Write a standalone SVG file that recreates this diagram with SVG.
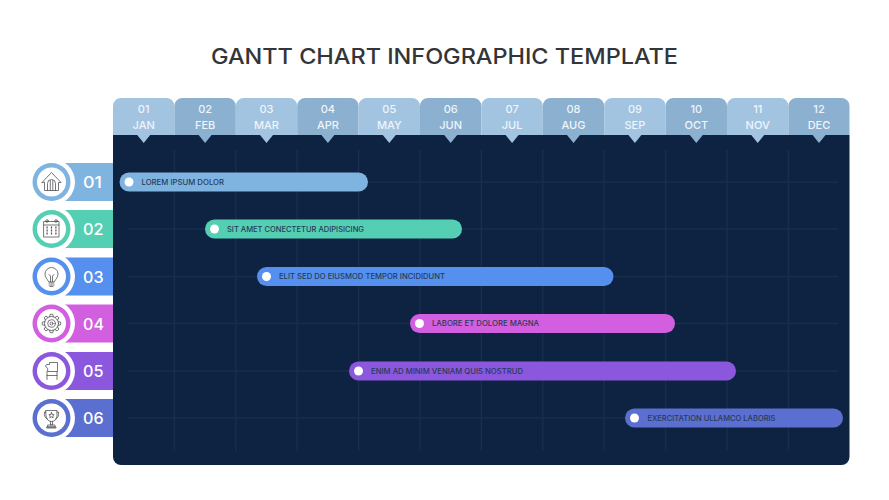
<svg xmlns="http://www.w3.org/2000/svg" width="889" height="500" viewBox="0 0 889 500">
<style>
text{font-family:Inter,"Liberation Sans",sans-serif}
.title{font-size:20.800px;font-weight:500;fill:#333538}
.m{font-size:11px;font-weight:500;fill:#eef5fb;text-anchor:middle}
.n{font-size:16px;font-weight:500;fill:#fff}
.b{font-size:7px;font-weight:500;fill:#263a58}
.l{fill:#a3c4e0}.d{fill:#8cb0cf}
.g{stroke:#182e4d;stroke-width:1.500;fill:none}
.i{stroke:#4a4a4f;stroke-width:.75;fill:none;stroke-linejoin:round;stroke-linecap:round}
.w{fill:#fff}
</style>
<defs>
<path id="tooth" class="i" d="M49.700 316.700L50.200 314.300H52.800L53.300 316.700"/>
</defs>
<rect width="889" height="500" fill="#fff"/>
<text class="title" x="211" y="63.500" textLength="467" lengthAdjust="spacingAndGlyphs">GANTT CHART INFOGRAPHIC TEMPLATE</text>

<g id="panel"><path d="M113 135H849.500V457a8 8 0 0 1-8 8H121a8 8 0 0 1-8-8Z" fill="#0e2342"/></g>

<g id="header">
<g id="m01"><path class="l" d="M113 135V106a8 8 0 0 1 8-8h45.400a8 8 0 0 1 8 8v29H150.200L143.700 143 137.200 135Z"/><text class="m" x="143.700" y="113">01</text><text class="m" x="143.700" y="129">JAN</text></g>
<g id="m02"><path class="d" d="M174.400 135V106a8 8 0 0 1 8-8h45.400a8 8 0 0 1 8 8v29H211.600L205.100 143 198.600 135Z"/><text class="m" x="205.100" y="113">02</text><text class="m" x="205.100" y="129">FEB</text></g>
<g id="m03"><path class="l" d="M235.800 135V106a8 8 0 0 1 8-8h45.400a8 8 0 0 1 8 8v29H273L266.500 143 260 135Z"/><text class="m" x="266.500" y="113">03</text><text class="m" x="266.500" y="129">MAR</text></g>
<g id="m04"><path class="d" d="M297.200 135V106a8 8 0 0 1 8-8h45.400a8 8 0 0 1 8 8v29H334.400L327.900 143 321.400 135Z"/><text class="m" x="327.900" y="113">04</text><text class="m" x="327.900" y="129">APR</text></g>
<g id="m05"><path class="l" d="M358.600 135V106a8 8 0 0 1 8-8h45.400a8 8 0 0 1 8 8v29H395.800L389.300 143 382.800 135Z"/><text class="m" x="389.300" y="113">05</text><text class="m" x="389.300" y="129">MAY</text></g>
<g id="m06"><path class="d" d="M420 135V106a8 8 0 0 1 8-8h45.400a8 8 0 0 1 8 8v29H457.200L450.700 143 444.200 135Z"/><text class="m" x="450.700" y="113">06</text><text class="m" x="450.700" y="129">JUN</text></g>
<g id="m07"><path class="l" d="M481.400 135V106a8 8 0 0 1 8-8h45.400a8 8 0 0 1 8 8v29H518.600L512.100 143 505.600 135Z"/><text class="m" x="512.100" y="113">07</text><text class="m" x="512.100" y="129">JUL</text></g>
<g id="m08"><path class="d" d="M542.800 135V106a8 8 0 0 1 8-8h45.400a8 8 0 0 1 8 8v29H580L573.500 143 567 135Z"/><text class="m" x="573.500" y="113">08</text><text class="m" x="573.500" y="129">AUG</text></g>
<g id="m09"><path class="l" d="M604.200 135V106a8 8 0 0 1 8-8h45.400a8 8 0 0 1 8 8v29H641.400L634.900 143 628.400 135Z"/><text class="m" x="634.900" y="113">09</text><text class="m" x="634.900" y="129">SEP</text></g>
<g id="m10"><path class="d" d="M665.600 135V106a8 8 0 0 1 8-8h45.400a8 8 0 0 1 8 8v29H702.800L696.300 143 689.800 135Z"/><text class="m" x="696.300" y="113">10</text><text class="m" x="696.300" y="129">OCT</text></g>
<g id="m11"><path class="l" d="M727 135V106a8 8 0 0 1 8-8h45.400a8 8 0 0 1 8 8v29H764.200L757.700 143 751.200 135Z"/><text class="m" x="757.700" y="113">11</text><text class="m" x="757.700" y="129">NOV</text></g>
<g id="m12"><path class="d" d="M788.400 135V106a8 8 0 0 1 8-8h45.100a8 8 0 0 1 8 8v29H825.600L819 143 812.600 135Z"/><text class="m" x="819" y="113">12</text><text class="m" x="819" y="129">DEC</text></g>
</g>

<g id="connectors">
<path class="g" d="M128 182H838M128 229H838M128 276.500H838M128 323.500H838M128 371H838M128 418H838"/>
<path class="g" d="M174.400 150V451M235.800 150V451M297.200 150V451M358.600 150V451M420 150V451M481.400 150V451M542.800 150V451M604.200 150V451M665.600 150V451M727 150V451M788.400 150V451"/>
</g>

<g id="row01">
<rect x="60" y="163" width="53" height="38" fill="#7fb3e0"/><circle class="w" cx="51.500" cy="182" r="23.500"/><circle cx="51.500" cy="182" r="19" fill="#7fb3e0"/><circle class="w" cx="51.500" cy="182" r="14.500"/>
<path class="i" d="M42 182.500L51.500 172.500 61 182.500 58.500 182.500V190.500H44.500V182.500ZM47.500 190.500V183.500A4 4 0 0 1 55.500 183.500V190.500M50.300 180.500V190.500M52.800 180.500V190.500"/>
<text class="n" x="83" y="188" textLength="19" lengthAdjust="spacingAndGlyphs">01</text>
</g>
<g id="row02">
<rect x="60" y="210" width="53" height="38" fill="#55cfb3"/><circle class="w" cx="51.500" cy="229" r="23.500"/><circle cx="51.500" cy="229" r="19" fill="#55cfb3"/><circle class="w" cx="51.500" cy="229" r="14.500"/>
<path class="i" d="M44 221.500H59V237H44ZM44 225H59"/>
<circle class="i" cx="47" cy="221" r="1.300"/><circle class="i" cx="56" cy="221" r="1.300"/>
<path d="M46.500 227.500h1.200M50.900 227.500h1.200M55.300 227.500h1.200M46.500 230.500h1.200M50.900 230.500h1.200M55.300 230.500h1.200M46.500 233.500h1.200M50.900 233.500h1.200M55.300 233.500h1.200" stroke="#4a4a4f" stroke-width="1.800" fill="none"/>
<text class="n" x="83" y="235" textLength="20.500" lengthAdjust="spacingAndGlyphs">02</text>
</g>
<g id="row03">
<rect x="60" y="257.500" width="53" height="38" fill="#5590ee"/><circle class="w" cx="51.500" cy="276.500" r="23.500"/><circle cx="51.500" cy="276.500" r="19" fill="#5590ee"/><circle class="w" cx="51.500" cy="276.500" r="14.500"/>
<path class="i" d="M48.500 281.500C47.500 279 45 278 45 274A6.500 6.500 0 0 1 58 274C58 278 55.500 279 54.500 281.500ZM49 283H54M49 285H54M50 286.500H53M50.500 281.500V276L49 274.500M52.500 281.500V276L54 274.500"/>
<text class="n" x="83" y="282.500" textLength="20.500" lengthAdjust="spacingAndGlyphs">03</text>
</g>
<g id="row04">
<rect x="60" y="304.500" width="53" height="38" fill="#d25fe0"/><circle class="w" cx="51.500" cy="323.500" r="23.500"/><circle cx="51.500" cy="323.500" r="19" fill="#d25fe0"/><circle class="w" cx="51.500" cy="323.500" r="14.500"/>
<circle class="i" cx="51.500" cy="323.500" r="7"/><circle class="i" cx="51.500" cy="323.500" r="3.800"/><circle class="i" cx="51.500" cy="323.500" r="1.500"/>
<use href="#tooth"/><use href="#tooth" transform="rotate(45 51.500 323.500)"/><use href="#tooth" transform="rotate(90 51.500 323.500)"/><use href="#tooth" transform="rotate(135 51.500 323.500)"/><use href="#tooth" transform="rotate(180 51.500 323.500)"/><use href="#tooth" transform="rotate(225 51.500 323.500)"/><use href="#tooth" transform="rotate(270 51.500 323.500)"/><use href="#tooth" transform="rotate(315 51.500 323.500)"/>
<text class="n" x="83" y="329.500" textLength="21" lengthAdjust="spacingAndGlyphs">04</text>
</g>
<g id="row05">
<rect x="60" y="352" width="53" height="38" fill="#8b57dd"/><circle class="w" cx="51.500" cy="371" r="23.500"/><circle cx="51.500" cy="371" r="19" fill="#8b57dd"/><circle class="w" cx="51.500" cy="371" r="14.500"/>
<path class="i" d="M48 371.500H57.500V362.500H49.500V364.500H46.500L45.500 366 47.500 368.500ZM47 371.500V379.500M57 371.500V379.500M47 375.500H57"/>
<text class="n" x="83" y="377" textLength="20.500" lengthAdjust="spacingAndGlyphs">05</text>
</g>
<g id="row06">
<rect x="60" y="399" width="53" height="38" fill="#5b6fd0"/><circle class="w" cx="51.500" cy="418" r="23.500"/><circle cx="51.500" cy="418" r="19" fill="#5b6fd0"/><circle class="w" cx="51.500" cy="418" r="14.500"/>
<path class="i" d="M46 410.500H57V416A5.500 5.500 0 0 1 46 416ZM46 412H44.500C44 416 45 418 47.500 419M57 412H58.500C59 416 58 418 55.500 419M50.500 421.500V425H52.500V421.500M48 425H55V427H48ZM47 427H56V428H47ZM51.500 412.500L52.300 414.500 54 414.700 52.800 416 53.200 417.800 51.500 416.800 49.800 417.800 50.200 416 49 414.700 50.700 414.500Z"/>
<text class="n" x="83" y="424" textLength="20.500" lengthAdjust="spacingAndGlyphs">06</text>
</g>

<g id="bar01"><rect x="119.500" y="172.500" width="248.500" height="19" rx="9.500" fill="#7fb3e0"/><circle class="w" cx="129" cy="182" r="4.500"/><text class="b" x="141.500" y="184.600" textLength="82.500" lengthAdjust="spacingAndGlyphs">LOREM IPSUM DOLOR</text></g>
<g id="bar02"><rect x="205" y="219.500" width="257" height="19" rx="9.500" fill="#55cfb3"/><circle class="w" cx="214.500" cy="229" r="4.500"/><text class="b" x="227" y="231.600" textLength="137" lengthAdjust="spacingAndGlyphs">SIT AMET CONECTETUR ADIPISICING</text></g>
<g id="bar03"><rect x="257" y="267" width="356.500" height="19" rx="9.500" fill="#5590ee"/><circle class="w" cx="266.500" cy="276.500" r="4.500"/><text class="b" x="279" y="279.100" textLength="166" lengthAdjust="spacingAndGlyphs">ELIT SED DO EIUSMOD TEMPOR INCIDIDUNT</text></g>
<g id="bar04"><rect x="410" y="314" width="265" height="19" rx="9.500" fill="#d25fe0"/><circle class="w" cx="419.500" cy="323.500" r="4.500"/><text class="b" x="432" y="326.100" textLength="107" lengthAdjust="spacingAndGlyphs">LABORE ET DOLORE MAGNA</text></g>
<g id="bar05"><rect x="349" y="361.500" width="387" height="19" rx="9.500" fill="#8b57dd"/><circle class="w" cx="358.500" cy="371" r="4.500"/><text class="b" x="371" y="373.600" textLength="152" lengthAdjust="spacingAndGlyphs">ENIM AD MINIM VENIAM QUIS NOSTRUD</text></g>
<g id="bar06"><rect x="625" y="408.500" width="218" height="19" rx="9.500" fill="#5b6fd0"/><circle class="w" cx="634.500" cy="418" r="4.500"/><text class="b" x="647.500" y="420.600" textLength="128" lengthAdjust="spacingAndGlyphs">EXERCITATION ULLAMCO LABORIS</text></g>
</svg>
